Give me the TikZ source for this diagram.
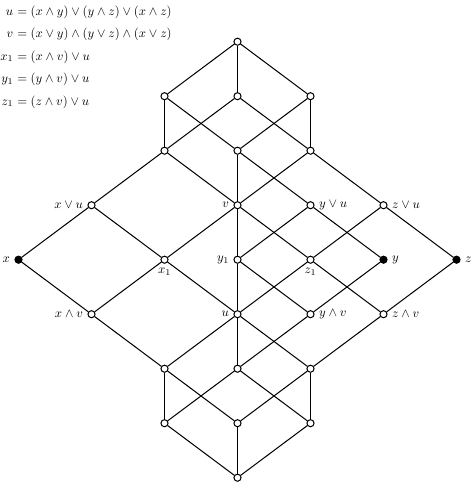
\documentclass[tikz,border=0pt]{standalone}
\usepackage{amsmath}
\begin{document}
\begin{tikzpicture}[x=0.7874pt,y=-0.7874pt,
  vtx/.style={circle,draw,line width=0.8pt,fill=white,inner sep=0pt,minimum size=5.6pt},
  gen/.style={vtx,fill=black},
  edge/.style={line width=0.8pt},
  lhs/.style={anchor=base east,inner sep=0pt},
  rhs/.style={anchor=base west,inner sep=0pt}]
\useasboundingbox (0,0) rectangle (474,484);
% equations
\node[lhs] (lu) at (13.5,15) {$u$};
\node[rhs] (ru) at (13.5,15) {${}=(x\wedge y)\vee(y\wedge z)\vee(x\wedge z)$};
\node[lhs] (lv) at (13.5,37.5) {$v$};
\node[rhs] (rv) at (13.5,37.5) {${}=(x\vee y)\wedge(y\vee z)\wedge(x\vee z)$};
\node[lhs] (lx) at (13.5,60) {$x_1$};
\node[rhs] (rx) at (13.5,60) {${}=(x\wedge v)\vee u$};
\node[lhs] (ly) at (13.5,82.5) {$y_1$};
\node[rhs] (ry) at (13.5,82.5) {${}=(y\wedge v)\vee u$};
\node[lhs] (lz) at (13.5,105) {$z_1$};
\node[rhs] (rz) at (13.5,105) {${}=(z\wedge v)\vee u$};
% vertices
\node[vtx] (t) at (237.5,41.7) {};
\node[vtx] (a1) at (164.5,96.2) {};
\node[vtx] (a2) at (237.5,96.2) {};
\node[vtx] (a3) at (310.5,96.2) {};
\node[vtx] (b1) at (164.5,150.7) {};
\node[vtx] (b2) at (237.5,150.7) {};
\node[vtx] (b3) at (310.5,150.7) {};
\node[vtx,label=left:$x\vee u$] (xu) at (91.5,205.2) {};
\node[vtx,label=left:$v$] (v) at (237.5,205.2) {};
\node[vtx,label=right:$y\vee u$] (yu) at (310.5,205.2) {};
\node[vtx,label=right:$z\vee u$] (zu) at (383.5,205.2) {};
\node[gen,label=left:$x$] (x) at (18.5,259.7) {};
\node[vtx,label=below:$x_1$] (x1) at (164.5,259.7) {};
\node[vtx,label=left:$y_1$] (y1) at (237.5,259.7) {};
\node[vtx,label=below:$z_1$] (z1) at (310.5,259.7) {};
\node[gen,label=right:$y$] (y) at (383.5,259.7) {};
\node[gen,label=right:$z$] (z) at (456.5,259.7) {};
\node[vtx,label=left:$x\wedge v$] (xv) at (91.5,314.2) {};
\node[vtx,label=left:$u$] (u) at (237.5,314.2) {};
\node[vtx,label=right:$y\wedge v$] (yv) at (310.5,314.2) {};
\node[vtx,label=right:$z\wedge v$] (zv) at (383.5,314.2) {};
\node[vtx] (d1) at (164.5,368.7) {};
\node[vtx] (d2) at (237.5,368.7) {};
\node[vtx] (d3) at (310.5,368.7) {};
\node[vtx] (e1) at (164.5,423.2) {};
\node[vtx] (e2) at (237.5,423.2) {};
\node[vtx] (e3) at (310.5,423.2) {};
\node[vtx] (bot) at (237.5,477.7) {};
% edges
\begin{scope}[on background layer/.try]
\end{scope}
\foreach \p/\q in {t/a1,t/a2,t/a3,
  a1/b1,a1/b2,a2/b1,a2/b3,a3/b2,a3/b3,
  b1/xu,b1/v,b2/v,b2/yu,b3/v,b3/zu,
  xu/x,xu/x1,v/x1,v/y1,v/z1,yu/y1,yu/y,zu/z1,zu/z,
  x/xv,x1/xv,x1/u,y1/u,y1/yv,z1/u,z1/zv,y/yv,z/zv,
  xv/d1,u/d1,u/d2,u/d3,yv/d2,zv/d3,
  d1/e1,d1/e2,d2/e1,d2/e3,d3/e2,d3/e3,
  e1/bot,e2/bot,e3/bot}
  \draw[edge] (\p) -- (\q);
\end{tikzpicture}
\end{document}
